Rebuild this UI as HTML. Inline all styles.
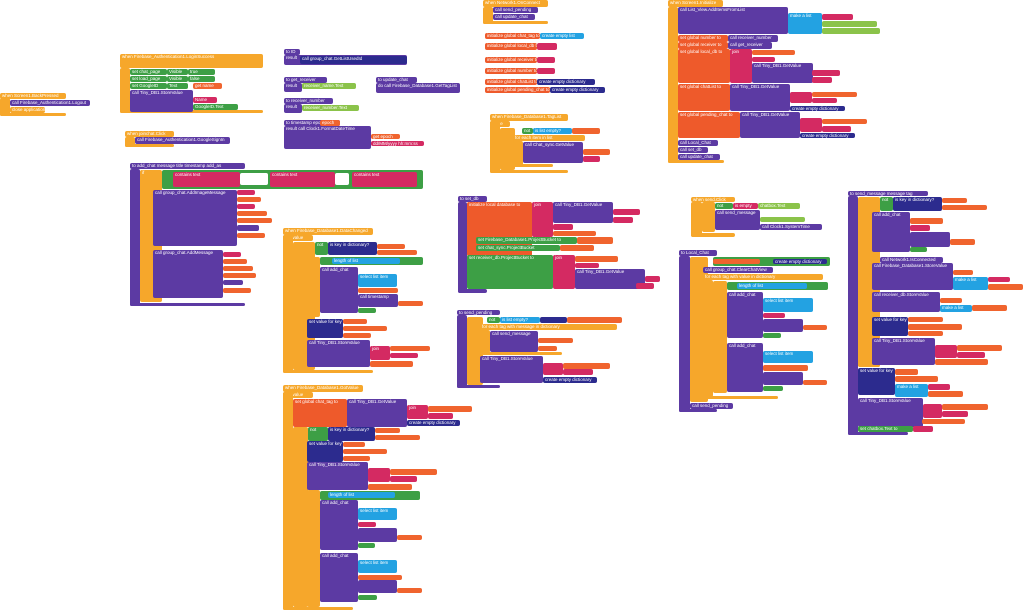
<!DOCTYPE html>
<html><head><meta charset="utf-8"><style>
html,body{margin:0;padding:0;background:#fff;width:1024px;height:612px;overflow:hidden;position:relative;font-family:"Liberation Sans",sans-serif}
.b{position:absolute;box-sizing:border-box;border-radius:2px;color:#fff;font-size:4.5px;line-height:6px;padding-left:2px;white-space:nowrap;overflow:hidden}
</style></head><body>
<div id="c"></div>
<script>
var O='#f6a72b',P='#5c3aa3',R='#ee5a2b',G2='#f0642e',K='#d42a62',G='#3d9f45',B='#23a2e2',N='#2c2b8e',L='#8bc34a';
var d=[
// Back pressed
[0,93,66,6,O,'when Screen1.BackPressed'],[0,98,10,18,O],[10,100,80,6,P,'call Firebase_Authentication1.Logout'],[10,107,35,6,O,'close application'],[0,113,66,3,O],
// Login success
[120,54,143,14,O,'when Firebase_Authentication1.LoginSuccess'],[120,68,10,45,O],[120,110,143,3,O],
[130,69,37,6,G,'set chat_page'],[167,69,21,6,G,'Visible'],[188,69,27,6,G,'true'],
[130,76,37,6,G,'set load_page'],[167,76,21,6,G,'Visible'],[188,76,27,6,G,'false'],
[130,83,37,6,G,'set GoogleID'],[167,83,21,6,G,'Text'],[193,83,29,6,G2,'get name'],
[130,90,63,22,P,'call Tiny_DB1.StoreValue'],[193,97,24,6,K,'Name'],[193,104,45,6,G,'GoogleID.Text'],
// joinchat
[125,131,49,6,O,'when joinchat.Click'],[125,137,10,10,O],[135,137,95,7,P,'call Firebase_Authentication1.GoogleSignIn'],[125,144,49,3,O],
// ID
[284,49,16,6,P,'to ID'],[284,55,123,10,P,'result'],[300,56,107,8,N,'call group_chat.GetListUsedId'],
[284,77,43,6,P,'to get_receiver'],[284,83,18,9,P,'result'],[302,83,54,6,L,'receiver_name.Text'],
[284,98,49,6,P,'to receiver_number'],[284,104,18,9,P,'result'],[302,105,57,6,L,'receiver_number.Text'],
[284,120,56,6,P,'to timestamp epoch'],[320,120,20,6,G2,'epoch'],[284,126,87,23,P,'result call Clock1.FormatDateTime'],[371,134,29,5,G2,'get epoch'],[371,141,53,5,K,'dd/MM/yyyy hh:mm:ss'],
[376,77,41,6,P,'to update_chat'],[376,83,84,10,P,'do call Firebase_Database1.GetTagList'],
// add_chat
[130,163,115,6,P,'to add_chat message title timestamp add_as'],[130,169,10,137,P],[130,303,115,3,P],
[140,170,22,132,O,'if'],[162,170,261,19,G],[173,172,67,15,K,'contains text'],[240,173,28,12,'#fff'],[270,172,65,15,K,'contains text'],[335,173,14,12,'#fff'],[352,172,65,15,K,'contains text'],
[153,190,84,56,P,'call group_chat.AddImageMessage'],[237,190,18,5,K],[237,197,24,5,G2],[237,204,18,5,K],[237,211,30,5,G2],[237,218,35,5,G2],[237,225,22,6,P],[237,233,28,5,G2],
[153,250,70,48,P,'call group_chat.AddMessage'],[223,252,18,5,K],[223,259,24,5,G2],[223,266,30,5,G2],[223,273,33,5,G2],[223,280,20,5,P],[223,288,28,5,G2],
// DataChanged
[283,228,90,7,O,'when Firebase_Database1.DataChanged'],[283,235,30,6,O,'tag value'],[283,235,10,138,O],[283,370,90,3,O],
[293,242,22,128,O],[315,242,13,13,G,'not'],[328,242,49,13,N,'is key in dictionary?'],[377,244,28,5,G2],[377,250,40,5,G2],
[307,257,13,60,O],[320,257,103,8,G],[332,258,68,6,B,'length of list'],[320,267,38,46,P,'call add_chat'],[358,274,39,13,B,'select list item'],[358,288,40,5,G2],[358,294,40,13,P,'call timestamp'],[398,301,25,5,G2],[358,308,18,5,G],
[307,319,36,19,N,'set value for key'],[343,319,24,5,G2],[343,326,44,5,G2],[343,333,28,5,G2],
[307,340,63,27,P,'call Tiny_DB1.StoreValue'],[370,346,20,14,K,'join'],[390,346,40,5,G2],[390,353,28,5,K],[370,361,43,6,G2],
// Get Value
[283,385,80,7,O,'when Firebase_Database1.GotValue'],[283,392,30,6,O,'tag value'],[283,392,10,218,O],[283,607,70,3,O],
[293,399,54,28,R,'set global chat_tag to'],[347,399,60,28,P,'call Tiny_DB1.GetValue'],[407,405,21,14,K,'join'],[428,406,44,6,G2],[428,413,25,6,K],[407,420,53,6,N,'create empty dictionary'],
[293,427,15,180,O],[308,427,20,14,G,'not'],[328,427,47,14,N,'is key in dictionary?'],[375,428,25,5,G2],[375,435,45,5,G2],
[307,441,36,21,N,'set value for key'],[343,442,22,5,G2],[343,449,44,5,G2],[343,456,27,5,G2],
[307,462,61,28,P,'call Tiny_DB1.StoreValue'],[368,468,22,14,K],[390,469,47,6,G2],[390,476,27,6,K],[368,484,44,6,G2],
[307,490,13,117,O],[320,491,100,9,G],[328,492,67,6,B,'length of list'],
[320,500,38,50,P,'call add_chat'],[358,508,39,12,B,'select list item'],[358,522,18,5,K],[358,528,39,14,P],[397,535,25,5,G2],[358,543,17,5,G],
[320,553,38,49,P,'call add_chat'],[358,560,39,13,B,'select list item'],[358,575,44,5,G2],[358,580,39,13,P],[397,588,25,5,G2],[358,595,19,5,G],
// Network OnConnect
[483,0,65,7,O,'when Network1.OnConnect'],[483,7,10,17,O],[493,7,45,6,P,'call send_pending'],[493,14,42,6,P,'call update_chat'],[483,21,65,3,O],
// globals
[485,33,55,6,R,'initialize global chat_tag to'],[540,33,44,6,B,'create empty list'],
[485,43,52,7,R,'initialize global local_db to'],[537,43,20,7,K],
[485,57,52,6,R,'initialize global receiver to'],[537,57,18,6,K],
[485,68,52,6,R,'initialize global number to'],[537,68,18,6,K],
[485,79,52,6,R,'initialize global chatList to'],[537,79,58,6,N,'create empty dictionary'],
[485,87,65,6,R,'initialize global pending_chat to'],[550,87,55,6,N,'create empty dictionary'],
// TagList
[490,114,78,7,O,'when Firebase_Database1.TagList'],[490,121,20,6,O,'value'],[490,121,10,52,O],[490,170,78,3,O],
[500,128,15,42,O],[522,128,11,6,G,'not'],[533,128,39,6,B,'is list empty?'],[572,128,28,6,G2],
[513,135,72,6,O,'for each item in list'],[513,141,10,26,O],[523,142,60,21,P,'call Chat_sync.GetValue'],[583,149,27,6,G2],[583,156,17,6,K],[513,164,40,3,O],
// set_db
[458,196,29,6,P,'to set_db'],[458,202,9,91,P],[458,289,29,4,P],
[467,202,65,54,R,'initialize local database to'],[532,202,21,35,K,'join'],[553,202,60,21,P,'call Tiny_DB1.GetValue'],[613,209,27,6,K],[613,217,20,6,K],[553,224,20,6,K],[553,231,43,5,G2],
[476,237,101,7,G,'set Firebase_Database1.ProjectBucket to'],[577,237,36,7,G2],[476,245,84,6,G,'set chat_sync.ProjectBucket'],[560,245,34,6,G2],
[467,255,86,34,G,'set receiver_db.ProjectBucket to'],[553,255,22,34,K,'join'],[575,256,43,6,G2],[575,263,24,5,K],[575,269,70,20,P,'call Tiny_DB1.GetValue'],[645,276,15,6,K],[636,283,18,6,K],
// send_pending
[457,310,43,5,P,'to send_pending'],[457,315,10,73,P],[457,385,43,3,P],
[467,317,16,68,O],[487,317,13,6,G,'not'],[500,317,40,6,B,'is list empty?'],[540,317,27,6,N],[567,317,55,6,G2],
[480,324,137,6,O,'for each tag with message in dictionary'],[480,330,10,23,O],[490,331,48,21,P,'call send_message'],[538,338,35,5,G2],[538,346,19,5,G2],[480,352,82,3,O],
[480,356,63,27,P,'call Tiny_DB1.StoreValue'],[543,363,20,12,K],[563,363,47,6,G2],[563,369,30,6,K],[543,377,54,6,N,'create empty dictionary'],
// Screen1 Initialize
[668,0,55,7,O,'when Screen1.Initialize'],[668,7,10,156,O],[668,160,56,3,O],
[678,7,110,27,P,'call List_View.AddItemsFromList'],[788,13,34,21,B,'make a list'],[822,14,31,6,K],[822,21,55,6,L],[822,28,58,6,L],
[678,35,50,7,R,'set global number to'],[728,35,50,7,P,'call receiver_number'],
[678,42,50,7,R,'set global receiver to'],[728,42,44,7,P,'call get_receiver'],
[678,49,52,34,R,'set global local_db to'],[730,49,22,34,K,'join'],[752,50,43,5,G2],[752,57,23,5,K],[752,63,61,20,P,'call Tiny_DB1.GetValue'],[812,70,28,6,K],[812,77,20,6,K],
[678,84,52,27,R,'set global chatList to'],[730,84,60,27,P,'call Tiny_DB1.GetValue'],[790,92,22,11,K],[812,92,45,5,G2],[812,98,25,5,K],[790,106,55,5,N,'create empty dictionary'],
[678,112,62,26,R,'set global pending_chat to'],[740,112,60,26,P,'call Tiny_DB1.GetValue'],[800,118,22,14,K],[822,119,45,5,G2],[822,126,29,6,K],[800,133,55,5,N,'create empty dictionary'],
[678,140,40,6,P,'call Local_Chat'],[678,147,30,6,P,'call set_db'],[678,154,42,6,P,'call update_chat'],
// send click
[691,197,44,5,O,'when send.Click'],[691,202,11,35,O],[691,233,44,4,O],[702,202,13,30,O],[715,203,18,6,G,'not'],[733,203,25,6,K,'is empty'],[758,203,42,6,L,'chatbox.Text'],
[715,210,45,20,P,'call send_message'],[760,217,45,5,L],[760,224,62,6,P,'call Clock1.SystemTime'],
// Local_Chat
[679,250,38,6,P,'to Local_Chat'],[679,256,11,156,P],[679,409,38,3,P],
[690,257,18,145,O],[690,396,88,3,O],[713,257,117,9,G],[713,259,47,5,G2],[773,259,54,5,N,'create empty dictionary'],
[703,267,70,6,P,'call group_chat.ClearChatView'],[703,274,120,6,O,'for each tag with value in dictionary'],[703,280,10,117,O],
[713,281,14,112,O],[727,282,101,8,G],[737,283,70,6,B,'length of list'],
[727,292,36,46,P,'call add_chat'],[763,298,50,14,B,'select list item'],[763,313,22,5,K],[763,319,40,13,P],[803,325,24,5,G2],[763,333,18,5,G],
[727,343,36,49,P,'call add_chat'],[763,351,50,12,B,'select list item'],[763,365,45,6,G2],[763,372,40,13,P],[803,380,24,5,G2],[763,386,20,5,G],
[690,403,43,6,P,'call send_pending'],
// send_message
[848,191,80,5,P,'to send_message message tag'],[848,196,10,239,P],[848,432,60,3,P],
[858,197,22,170,O],[880,197,13,14,G,'not'],[893,197,49,14,N,'is key in dictionary?'],[942,198,25,5,G2],[942,205,45,5,G2],
[872,212,38,40,P,'call add_chat'],[910,218,33,6,G2],[910,225,20,6,K],[910,232,40,15,P],[950,239,25,6,G2],[910,247,17,5,G],
[858,257,22,110,O],[880,257,63,6,P,'call Network1.IsConnected'],
[872,263,81,27,P,'call Firebase_Database1.StoreValue'],[953,270,20,5,G2],[953,277,35,13,B,'make a list'],[988,277,22,5,K],[988,284,35,6,G2],
[872,292,68,20,P,'call receiver_db.StoreValue'],[940,298,22,5,G2],[940,305,32,7,B,'make a list'],[972,305,35,6,G2],
[872,317,36,19,N,'set value for key'],[908,317,35,5,G2],[908,324,54,6,G2],[908,331,35,5,G2],
[872,338,63,27,P,'call Tiny_DB1.StoreValue'],[935,345,22,13,K],[957,345,45,6,G2],[957,352,28,6,K],[935,359,53,6,G2],
[858,368,37,27,N,'set value for key'],[895,369,23,6,G2],[895,376,43,6,G2],[895,384,33,13,B,'make a list'],[928,384,22,6,K],[928,391,35,6,G2],
[858,398,65,29,P,'call Tiny_DB1.StoreValue'],[923,404,19,14,K],[942,404,46,6,G2],[942,411,26,6,K],[922,419,43,5,G2],
[858,426,55,6,G,'set chatbox.Text to'],[913,426,20,6,K]
];
var h='';d.forEach(function(a){h+='<div class="b" style="left:'+a[0]+'px;top:'+a[1]+'px;width:'+a[2]+'px;height:'+a[3]+'px;background:'+a[4]+'">'+(a[5]||'')+'</div>';});
document.getElementById('c').innerHTML=h;
</script>
</body></html>
